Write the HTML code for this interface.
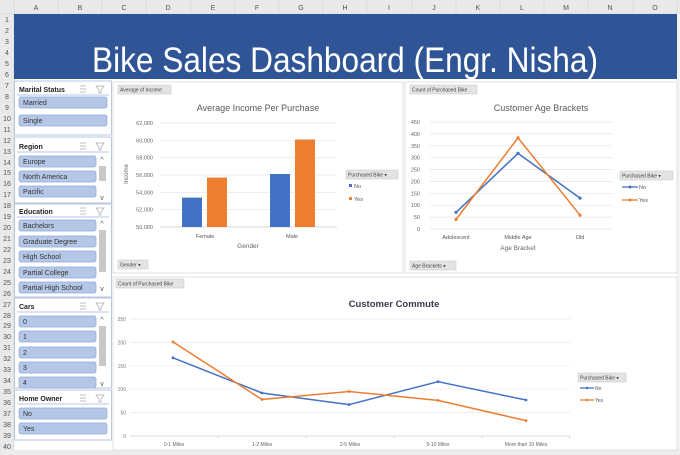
<!DOCTYPE html>
<html><head><meta charset="utf-8"><style>
html,body{margin:0;padding:0;background:#fff;}
svg{display:block;font-family:"Liberation Sans",sans-serif;}
</style></head><body>
<svg width="680" height="455" viewBox="0 0 680 455" xmlns="http://www.w3.org/2000/svg">
<rect width="680" height="455" fill="#ffffff"/>
<!-- column header -->
<rect x="0" y="0" width="680" height="14" fill="#e9e9e9"/>
<rect x="0" y="0" width="14" height="455" fill="#e9e9e9"/>
<g stroke="#d0d0d0" stroke-width="0.6">
<line x1="0" y1="14" x2="680" y2="14"/>
<line x1="14" y1="0" x2="14" y2="455"/>
<line x1="58" y1="0" x2="58" y2="14"/><line x1="102" y1="0" x2="102" y2="14"/><line x1="146" y1="0" x2="146" y2="14"/><line x1="191" y1="0" x2="191" y2="14"/><line x1="235" y1="0" x2="235" y2="14"/><line x1="279" y1="0" x2="279" y2="14"/><line x1="323" y1="0" x2="323" y2="14"/><line x1="367" y1="0" x2="367" y2="14"/><line x1="412" y1="0" x2="412" y2="14"/><line x1="456" y1="0" x2="456" y2="14"/><line x1="500" y1="0" x2="500" y2="14"/><line x1="544" y1="0" x2="544" y2="14"/><line x1="588" y1="0" x2="588" y2="14"/><line x1="633" y1="0" x2="633" y2="14"/><line x1="677" y1="0" x2="677" y2="14"/>
</g>
<g font-size="7" fill="#555" text-anchor="middle">
<text x="36" y="10">A</text><text x="80" y="10">B</text><text x="124" y="10">C</text><text x="168" y="10">D</text><text x="213" y="10">E</text><text x="257" y="10">F</text><text x="301" y="10">G</text><text x="345" y="10">H</text><text x="389" y="10">I</text><text x="434" y="10">J</text><text x="478" y="10">K</text><text x="522" y="10">L</text><text x="566" y="10">M</text><text x="610" y="10">N</text><text x="655" y="10">O</text>
</g>
<g font-size="7" fill="#555" text-anchor="middle">
<text x="7" y="22">1</text><text x="7" y="33">2</text><text x="7" y="44">3</text><text x="7" y="55">4</text><text x="7" y="66">5</text><text x="7" y="77">6</text><text x="7" y="88">7</text><text x="7" y="99">8</text><text x="7" y="110">9</text><text x="7" y="121">10</text><text x="7" y="132">11</text><text x="7" y="143">12</text><text x="7" y="154">13</text><text x="7" y="165">14</text><text x="7" y="175">15</text><text x="7" y="186">16</text><text x="7" y="197">17</text><text x="7" y="208">18</text><text x="7" y="219">19</text><text x="7" y="230">20</text><text x="7" y="241">21</text><text x="7" y="252">22</text><text x="7" y="263">23</text><text x="7" y="274">24</text><text x="7" y="285">25</text><text x="7" y="296">26</text><text x="7" y="307">27</text><text x="7" y="318">28</text><text x="7" y="328">29</text><text x="7" y="339">30</text><text x="7" y="350">31</text><text x="7" y="361">32</text><text x="7" y="372">33</text><text x="7" y="383">34</text><text x="7" y="394">35</text><text x="7" y="405">36</text><text x="7" y="416">37</text><text x="7" y="427">38</text><text x="7" y="438">39</text><text x="7" y="449">40</text>
</g>
<rect x="0" y="450" width="680" height="5" fill="#ececec"/>
<!-- banner -->
<rect x="14" y="14" width="663" height="65" fill="#2f5597"/>
<rect x="677" y="14" width="3" height="436" fill="#f3f3f3"/>
<text x="345" y="72" font-size="35" fill="#fff" text-anchor="middle" textLength="506" lengthAdjust="spacingAndGlyphs">Bike Sales Dashboard (Engr. Nisha)</text>

<!-- slicers -->
<g stroke="#a9b9d6" stroke-width="0.8" fill="#fff">
<rect x="14.5" y="81" width="97" height="54"/>
<rect x="14.5" y="137" width="97" height="66"/>
<rect x="14.5" y="204" width="97" height="93"/>
<rect x="14.5" y="298" width="97" height="90"/>
<rect x="14.5" y="390" width="97" height="50"/>
</g>
<g font-size="7" font-weight="bold" fill="#222">
<text x="19" y="92">Marital Status</text>
<text x="19" y="149">Region</text>
<text x="19" y="214">Education</text>
<text x="19" y="309">Cars</text>
<text x="19" y="401">Home Owner</text>
</g>
<g stroke="#aaa" stroke-width="0.7" fill="none">
<path d="M80 86h6M80 89h6M80 92h6M96 86h8l-3 4v3h-2v-3z"/>
<path d="M80 143h6M80 146h6M80 149h6M96 143h8l-3 4v3h-2v-3z"/>
<path d="M80 208h6M80 211h6M80 214h6M96 208h8l-3 4v3h-2v-3z"/>
<path d="M80 303h6M80 306h6M80 309h6M96 303h8l-3 4v3h-2v-3z"/>
<path d="M80 395h6M80 398h6M80 401h6M96 395h8l-3 4v3h-2v-3z"/>
</g>
<g stroke="#b4c7e7" stroke-width="1"><line x1="17" y1="95" x2="109" y2="95"/><line x1="17" y1="152" x2="109" y2="152"/><line x1="17" y1="217" x2="109" y2="217"/><line x1="17" y1="312" x2="109" y2="312"/><line x1="17" y1="404" x2="109" y2="404"/></g>
<g fill="#b4c7e7" stroke="#8ea9db" stroke-width="0.7">
<rect x="19" y="97" width="88" height="11" rx="2"/><rect x="19" y="115" width="88" height="11" rx="2"/>
<rect x="19" y="156" width="77" height="11" rx="2"/><rect x="19" y="171" width="77" height="11" rx="2"/><rect x="19" y="186" width="77" height="11" rx="2"/>
<rect x="19" y="220" width="77" height="11" rx="2"/><rect x="19" y="236" width="77" height="11" rx="2"/><rect x="19" y="251" width="77" height="11" rx="2"/><rect x="19" y="267" width="77" height="11" rx="2"/><rect x="19" y="282" width="77" height="11" rx="2"/>
<rect x="19" y="316" width="77" height="11" rx="2"/><rect x="19" y="331" width="77" height="11" rx="2"/><rect x="19" y="347" width="77" height="11" rx="2"/><rect x="19" y="362" width="77" height="11" rx="2"/><rect x="19" y="377" width="77" height="11" rx="2"/>
<rect x="19" y="408" width="88" height="11" rx="2"/><rect x="19" y="423" width="88" height="11" rx="2"/>
</g>
<g fill="#c8c8c8"><rect x="99" y="166" width="7" height="15"/><rect x="99" y="230" width="7" height="42"/><rect x="99" y="326" width="7" height="40"/></g>
<g font-size="7" fill="#555" text-anchor="middle"><text x="102" y="162">^</text><text x="102" y="200">v</text><text x="102" y="226">^</text><text x="102" y="291">v</text><text x="102" y="322">^</text><text x="102" y="386">v</text></g>
<g font-size="7" fill="#333">
<text x="23" y="105">Married</text><text x="23" y="123">Single</text>
<text x="23" y="164">Europe</text><text x="23" y="179">North America</text><text x="23" y="194">Pacific</text>
<text x="23" y="228">Bachelors</text><text x="23" y="244">Graduate Degree</text><text x="23" y="259">High School</text><text x="23" y="275">Partial College</text><text x="23" y="290">Partial High School</text>
<text x="23" y="324">0</text><text x="23" y="339">1</text><text x="23" y="355">2</text><text x="23" y="370">3</text><text x="23" y="385">4</text>
<text x="23" y="416">No</text><text x="23" y="431">Yes</text>
</g>

<!-- chart frames -->
<g fill="none" stroke="#d9d9d9" stroke-width="0.8">
<rect x="113" y="82" width="290" height="191"/>
<rect x="405" y="82" width="272" height="191"/>
<rect x="113" y="277" width="564" height="173"/>
</g>
<!-- pivot buttons -->
<g fill="#e3e3e3" stroke="#c6c6c6" stroke-width="0.5">
<rect x="118" y="85" width="53" height="9"/><rect x="118" y="260" width="30" height="9"/>
<rect x="410" y="85" width="67" height="9"/><rect x="410" y="261" width="46" height="9"/>
<rect x="116" y="279" width="68" height="9"/>
<rect x="346" y="170" width="52" height="9"/><rect x="620" y="171" width="53" height="9"/><rect x="578" y="373" width="48" height="9"/>
</g>
<g font-size="5" fill="#444">
<text x="120" y="91.5">Average of Income</text><text x="120" y="266.5">Gender ▾</text>
<text x="412" y="91.5">Count of Purchased Bike</text><text x="412" y="267.5">Age Brackets ▾</text>
<text x="118" y="285.5">Count of Purchased Bike</text>
<text x="348" y="176.5">Purchased Bike ▾</text><text x="622" y="177.5">Purchased Bike ▾</text><text x="580" y="379.5">Purchased Bike ▾</text>
</g>

<!-- chart 1 -->
<text x="258" y="111" font-size="9" fill="#595959" text-anchor="middle">Average Income Per Purchase</text>
<g stroke="#e4e4e4" stroke-width="0.7">
<line x1="160" y1="123" x2="337" y2="123"/><line x1="160" y1="140.3" x2="337" y2="140.3"/><line x1="160" y1="157.7" x2="337" y2="157.7"/><line x1="160" y1="175" x2="337" y2="175"/><line x1="160" y1="192.3" x2="337" y2="192.3"/><line x1="160" y1="209.7" x2="337" y2="209.7"/>
</g>
<line x1="160" y1="227" x2="337" y2="227" stroke="#ccc" stroke-width="0.7"/>
<g font-size="5.5" fill="#666" text-anchor="end">
<text x="153" y="125">62,000</text><text x="153" y="142.3">60,000</text><text x="153" y="159.7">58,000</text><text x="153" y="177">56,000</text><text x="153" y="194.3">54,000</text><text x="153" y="211.7">52,000</text><text x="153" y="229">50,000</text>
</g>
<text x="0" y="0" font-size="6" fill="#666" text-anchor="middle" transform="translate(128 174) rotate(-90)">Income</text>
<g>
<rect x="182" y="197.6" width="20" height="29.4" fill="#4472c4"/>
<rect x="207" y="177.6" width="20" height="49.4" fill="#ed7d31"/>
<rect x="270" y="174" width="20" height="53" fill="#4472c4"/>
<rect x="295" y="139.5" width="20" height="87.5" fill="#ed7d31"/>
</g>
<g font-size="5.5" fill="#555" text-anchor="middle"><text x="205" y="238">Female</text><text x="292" y="238">Male</text></g>
<text x="248" y="248" font-size="6.5" fill="#666" text-anchor="middle">Gender</text>
<rect x="349" y="184" width="3" height="3" fill="#4472c4"/><rect x="349" y="197" width="3" height="3" fill="#ed7d31"/>
<g font-size="5.5" fill="#555"><text x="354" y="188">No</text><text x="354" y="201">Yes</text></g>

<!-- chart 2 -->
<text x="541" y="111" font-size="9" fill="#595959" text-anchor="middle">Customer Age Brackets</text>
<g stroke="#e4e4e4" stroke-width="0.7">
<line x1="430" y1="122" x2="612" y2="122"/><line x1="430" y1="133.9" x2="612" y2="133.9"/><line x1="430" y1="145.8" x2="612" y2="145.8"/><line x1="430" y1="157.7" x2="612" y2="157.7"/><line x1="430" y1="169.6" x2="612" y2="169.6"/><line x1="430" y1="181.4" x2="612" y2="181.4"/><line x1="430" y1="193.3" x2="612" y2="193.3"/><line x1="430" y1="205.2" x2="612" y2="205.2"/><line x1="430" y1="217.1" x2="612" y2="217.1"/><line x1="430" y1="229" x2="612" y2="229"/>
</g>
<g font-size="5.5" fill="#666" text-anchor="end">
<text x="420" y="124">450</text><text x="420" y="135.9">400</text><text x="420" y="147.8">350</text><text x="420" y="159.7">300</text><text x="420" y="171.6">250</text><text x="420" y="183.4">200</text><text x="420" y="195.3">150</text><text x="420" y="207.2">100</text><text x="420" y="219.1">50</text><text x="420" y="231">0</text>
</g>
<polyline points="456,212.4 518,153.4 580,198.1" fill="none" stroke="#4472c4" stroke-width="1.5"/>
<polyline points="456,219.5 518,137.9 580,215.2" fill="none" stroke="#ed7d31" stroke-width="1.5"/>
<g fill="#4472c4"><circle cx="456" cy="212.4" r="1.6"/><circle cx="518" cy="153.4" r="1.6"/><circle cx="580" cy="198.1" r="1.6"/></g>
<g fill="#ed7d31"><circle cx="456" cy="219.5" r="1.6"/><circle cx="518" cy="137.9" r="1.6"/><circle cx="580" cy="215.2" r="1.6"/></g>
<g font-size="5.5" fill="#555" text-anchor="middle"><text x="456" y="239">Adolescent</text><text x="518" y="239">Middle Age</text><text x="580" y="239">Old</text></g>
<text x="518" y="250" font-size="6.5" fill="#666" text-anchor="middle">Age Bracket</text>
<line x1="622" y1="187" x2="638" y2="187" stroke="#4472c4" stroke-width="1.3"/><circle cx="630" cy="187" r="1.5" fill="#4472c4"/>
<line x1="622" y1="200" x2="638" y2="200" stroke="#ed7d31" stroke-width="1.3"/><circle cx="630" cy="200" r="1.5" fill="#ed7d31"/>
<g font-size="5.5" fill="#555"><text x="639" y="189">No</text><text x="639" y="202">Yes</text></g>

<!-- chart 3 -->
<text x="394" y="307" font-size="9.5" font-weight="bold" fill="#3a3a4a" text-anchor="middle">Customer Commute</text>
<g stroke="#e8e8e8" stroke-width="0.7">
<line x1="130" y1="319" x2="570" y2="319"/><line x1="130" y1="342.4" x2="570" y2="342.4"/><line x1="130" y1="365.8" x2="570" y2="365.8"/><line x1="130" y1="389.2" x2="570" y2="389.2"/><line x1="130" y1="412.6" x2="570" y2="412.6"/>
</g>
<line x1="130" y1="436" x2="570" y2="436" stroke="#d0d0d0" stroke-width="0.7"/>
<g stroke="#d0d0d0" stroke-width="0.7"><line x1="218" y1="436" x2="218" y2="439"/><line x1="306" y1="436" x2="306" y2="439"/><line x1="394" y1="436" x2="394" y2="439"/><line x1="482" y1="436" x2="482" y2="439"/><line x1="570" y1="436" x2="570" y2="439"/></g>
<g font-size="5" fill="#777" text-anchor="end">
<text x="126" y="321">250</text><text x="126" y="344.4">200</text><text x="126" y="367.8">150</text><text x="126" y="391.2">100</text><text x="126" y="414.6">50</text><text x="126" y="438">0</text>
</g>
<polyline points="173,357.8 262,393 349,404.6 438,381.7 526,400" fill="none" stroke="#4472c4" stroke-width="1.5"/>
<polyline points="173,341.9 262,399.5 349,391.5 438,400.4 526,420.6" fill="none" stroke="#ed7d31" stroke-width="1.5"/>
<g fill="#4472c4"><circle cx="173" cy="357.8" r="1.4"/><circle cx="262" cy="393" r="1.4"/><circle cx="349" cy="404.6" r="1.4"/><circle cx="438" cy="381.7" r="1.4"/><circle cx="526" cy="400" r="1.4"/></g>
<g fill="#ed7d31"><circle cx="173" cy="341.9" r="1.4"/><circle cx="262" cy="399.5" r="1.4"/><circle cx="349" cy="391.5" r="1.4"/><circle cx="438" cy="400.4" r="1.4"/><circle cx="526" cy="420.6" r="1.4"/></g>
<g font-size="5" fill="#666" text-anchor="middle"><text x="174" y="446">0-1 Miles</text><text x="262" y="446">1-2 Miles</text><text x="350" y="446">2-5 Miles</text><text x="438" y="446">5-10 Miles</text><text x="526" y="446">More than 10 Miles</text></g>
<line x1="580" y1="388" x2="594" y2="388" stroke="#4472c4" stroke-width="1.3"/><circle cx="587" cy="388" r="1.3" fill="#4472c4"/>
<line x1="580" y1="400" x2="594" y2="400" stroke="#ed7d31" stroke-width="1.3"/><circle cx="587" cy="400" r="1.3" fill="#ed7d31"/>
<g font-size="5" fill="#555"><text x="595" y="390">No</text><text x="595" y="402">Yes</text></g>
</svg>
</body></html>
